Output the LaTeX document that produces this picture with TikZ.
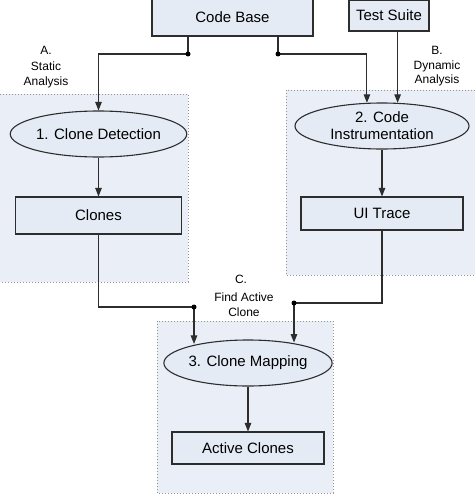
\documentclass[tikz,border=0pt]{standalone}
\usepackage{fontspec}
\setmainfont{Liberation Sans}
\usetikzlibrary{arrows.meta,shapes.geometric,calc}
\definecolor{regfill}{RGB}{233,238,247}
\definecolor{nodefill}{RGB}{229,235,245}
\definecolor{edge}{RGB}{45,45,45}
\begin{document}
\begin{tikzpicture}[x=1pt,y=-1pt,
  region/.style={fill=regfill,draw=gray!85,line width=1pt,dash pattern=on 1pt off 2pt},
  boxnode/.style={draw=edge,fill=nodefill,line width=1.1pt,rectangle,inner sep=0pt,font=\fontsize{15}{18}\selectfont},
  ellnode/.style={draw=edge,fill=nodefill,line width=1.1pt,ellipse,inner sep=0pt,align=center,font=\fontsize{15}{17}\selectfont},
  lbl/.style={align=center,font=\fontsize{12}{14.5}\selectfont,inner sep=0pt},
  arr/.style={draw=edge,line width=1.1pt,-{Triangle[length=8.5pt,width=6.5pt]}},
  conn/.style={draw=edge,line width=1.1pt},
  dot/.style={circle,fill=black,inner sep=0pt,minimum size=5pt}]
\useasboundingbox (0,0) rectangle (474,495);
% regions
\path[region] (-2,94) rectangle (188,282);
\path[region] (286,90) rectangle (476,275);
\path[region] (157,321) rectangle (333,493);
% nodes
\node[boxnode,minimum width=161pt,minimum height=37pt] (cb) at (232.5,17.5) {Code Base};
\node[boxnode,minimum width=80pt,minimum height=31pt] (ts) at (389,15.5) {Test Suite};
\node[ellnode,minimum width=167pt,minimum height=46pt] (e1) at (98.5,134) {1. Clone Detection};
\node[boxnode,minimum width=166pt,minimum height=37pt] (cl) at (98.5,215.5) {Clones};
\node[ellnode,minimum width=174pt,minimum height=46pt] (e2) at (382,126) {2. Code\\Instrumentation};
\node[boxnode,minimum width=162pt,minimum height=33pt] (ui) at (382,213.5) {UI Trace};
\node[ellnode,minimum width=167pt,minimum height=46pt] (e3) at (248,363) {3. Clone Mapping};
\node[boxnode,minimum width=152pt,minimum height=32pt] (ac) at (248,448) {Active Clones};
% labels
\node[lbl] (la) at (46,50) {A.};
\node[lbl] (la2) at (46,75) {Static\\Analysis};
\node[lbl] (lb) at (437,50) {B.};
\node[lbl] (lb2) at (437,73.5) {Dynamic\\Analysis};
\node[lbl] (lc) at (241,279) {C.};
\node[lbl] (lc2) at (244,304.5) {Find Active\\Clone};
% junctions
\coordinate (j1) at (188,54);
\coordinate (j2) at (278,54);
\coordinate (k1) at (194,307);
\coordinate (k2) at (294,303);
% connectors
\draw[arr] (cb.south -| j1) -- (j1) -| (e1.north);
\draw[arr] (cb.south -| j2) -- (j2) -| (e2.123.5);
\draw[arr] (ts.south -| e2.56.5) -- (e2.56.5);
\draw[arr] (e1.south) -- (cl.north);
\draw[arr] (e2.south) -- (ui.north);
\draw[conn] (cl.south) |- (k1);
\draw[arr] (k1) -- (k1 |- e3.159);
\draw[conn] (ui.south) |- (k2);
\draw[arr] (k2) -- (k2 |- e3.26);
\draw[arr] (e3.south) -- (ac.north);
\node[dot] (d1) at (j1) {};
\node[dot] (d2) at (j2) {};
\node[dot] (d3) at (k1) {};
\node[dot] (d4) at (k2) {};
\end{tikzpicture}
\end{document}
